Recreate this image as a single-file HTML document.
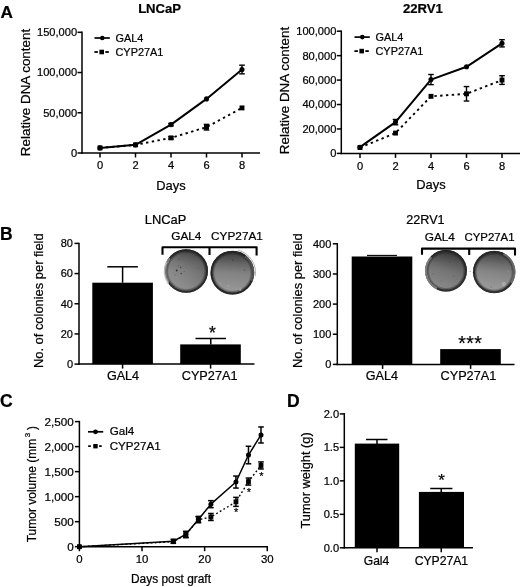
<!DOCTYPE html>
<html><head><meta charset="utf-8"><title>Figure</title>
<style>
html,body{margin:0;padding:0;background:#fff;}
svg{display:block;font-family:"Liberation Sans", Arial, sans-serif;fill:#000;}
text{stroke:#000;stroke-width:0.22px;}
</style></head>
<body>
<svg width="520" height="587" viewBox="0 0 520 587">
<rect width="520" height="587" fill="#fff"/>
<line x1="82" y1="31.549999999999997" x2="82" y2="153.75" stroke="#000" stroke-width="1.5" stroke-linecap="butt"/>
<line x1="81.25" y1="153" x2="260" y2="153" stroke="#000" stroke-width="1.5" stroke-linecap="butt"/>
<line x1="77.5" y1="153.0" x2="82" y2="153.0" stroke="#000" stroke-width="1.5" stroke-linecap="butt"/>
<text x="77.1" y="156.95" font-size="11.1" text-anchor="end" font-weight="normal">0</text>
<line x1="77.5" y1="112.76666666666667" x2="82" y2="112.76666666666667" stroke="#000" stroke-width="1.5" stroke-linecap="butt"/>
<text x="77.1" y="116.71666666666667" font-size="11.1" text-anchor="end" font-weight="normal">50,000</text>
<line x1="77.5" y1="72.53333333333333" x2="82" y2="72.53333333333333" stroke="#000" stroke-width="1.5" stroke-linecap="butt"/>
<text x="77.1" y="76.48333333333333" font-size="11.1" text-anchor="end" font-weight="normal">100,000</text>
<line x1="77.5" y1="32.30000000000001" x2="82" y2="32.30000000000001" stroke="#000" stroke-width="1.5" stroke-linecap="butt"/>
<text x="77.1" y="36.250000000000014" font-size="11.1" text-anchor="end" font-weight="normal">150,000</text>
<line x1="100.0" y1="153" x2="100.0" y2="157.5" stroke="#000" stroke-width="1.5" stroke-linecap="butt"/>
<text x="100.0" y="169.4" font-size="11.1" text-anchor="middle" font-weight="normal">0</text>
<line x1="135.5" y1="153" x2="135.5" y2="157.5" stroke="#000" stroke-width="1.5" stroke-linecap="butt"/>
<text x="135.5" y="169.4" font-size="11.1" text-anchor="middle" font-weight="normal">2</text>
<line x1="171.0" y1="153" x2="171.0" y2="157.5" stroke="#000" stroke-width="1.5" stroke-linecap="butt"/>
<text x="171.0" y="169.4" font-size="11.1" text-anchor="middle" font-weight="normal">4</text>
<line x1="206.5" y1="153" x2="206.5" y2="157.5" stroke="#000" stroke-width="1.5" stroke-linecap="butt"/>
<text x="206.5" y="169.4" font-size="11.1" text-anchor="middle" font-weight="normal">6</text>
<line x1="242.0" y1="153" x2="242.0" y2="157.5" stroke="#000" stroke-width="1.5" stroke-linecap="butt"/>
<text x="242.0" y="169.4" font-size="11.1" text-anchor="middle" font-weight="normal">8</text>
<text x="171" y="189.5" font-size="12.9" text-anchor="middle" font-weight="normal">Days</text>
<text x="30" y="92.5" font-size="13.4" text-anchor="middle" font-weight="normal" transform="rotate(-90 30 92.5)">Relative DNA content</text>
<text x="159.6" y="12.5" font-size="13.1" text-anchor="middle" font-weight="bold">LNCaP</text>
<line x1="94.5" y1="38" x2="109.8" y2="38" stroke="#000" stroke-width="1.7" stroke-linecap="butt"/>
<circle cx="102.30" cy="38.00" r="2.3" fill="#000"/>
<text x="115.5" y="41.5" font-size="10.9" text-anchor="start" font-weight="normal">GAL4</text>
<line x1="94.4" y1="52" x2="97.9" y2="52" stroke="#000" stroke-width="1.8" stroke-linecap="butt"/>
<line x1="105.3" y1="52" x2="108.8" y2="52" stroke="#000" stroke-width="1.8" stroke-linecap="butt"/>
<rect x="99.40" y="49.70" width="4.6" height="4.6" fill="#000"/>
<text x="115.5" y="55.9" font-size="10.9" text-anchor="start" font-weight="normal">CYP27A1</text>
<polyline points="100.00,147.92 135.50,144.87 171.00,137.88 206.50,127.19 242.00,107.91" fill="none" stroke="#000" stroke-width="1.9" stroke-dasharray="2.4 3.4" stroke-linejoin="round"/>
<polyline points="100.00,147.92 135.50,144.87 171.00,124.62 206.50,98.92 242.00,69.51" fill="none" stroke="#000" stroke-width="2" stroke-linejoin="round"/>
<line x1="242.0" y1="65.17599999999999" x2="242.0" y2="73.85199999999999" stroke="#000" stroke-width="1.4" stroke-linecap="butt"/>
<line x1="239.2" y1="65.17599999999999" x2="244.8" y2="65.17599999999999" stroke="#000" stroke-width="1.4" stroke-linecap="butt"/>
<line x1="239.2" y1="73.85199999999999" x2="244.8" y2="73.85199999999999" stroke="#000" stroke-width="1.4" stroke-linecap="butt"/>
<line x1="171.0" y1="123.41766666666666" x2="171.0" y2="125.82766666666666" stroke="#000" stroke-width="1.4" stroke-linecap="butt"/>
<line x1="168.2" y1="123.41766666666666" x2="173.8" y2="123.41766666666666" stroke="#000" stroke-width="1.4" stroke-linecap="butt"/>
<line x1="168.2" y1="125.82766666666666" x2="173.8" y2="125.82766666666666" stroke="#000" stroke-width="1.4" stroke-linecap="butt"/>
<line x1="206.5" y1="124.38166666666666" x2="206.5" y2="130.005" stroke="#000" stroke-width="1.4" stroke-linecap="butt"/>
<line x1="203.7" y1="124.38166666666666" x2="209.3" y2="124.38166666666666" stroke="#000" stroke-width="1.4" stroke-linecap="butt"/>
<line x1="203.7" y1="130.005" x2="209.3" y2="130.005" stroke="#000" stroke-width="1.4" stroke-linecap="butt"/>
<line x1="171.0" y1="136.67266666666666" x2="171.0" y2="139.08266666666668" stroke="#000" stroke-width="1.4" stroke-linecap="butt"/>
<line x1="168.2" y1="136.67266666666666" x2="173.8" y2="136.67266666666666" stroke="#000" stroke-width="1.4" stroke-linecap="butt"/>
<line x1="168.2" y1="139.08266666666668" x2="173.8" y2="139.08266666666668" stroke="#000" stroke-width="1.4" stroke-linecap="butt"/>
<circle cx="100.00" cy="147.92" r="2.55" fill="#000"/>
<circle cx="135.50" cy="144.87" r="2.55" fill="#000"/>
<circle cx="171.00" cy="124.62" r="2.55" fill="#000"/>
<circle cx="206.50" cy="98.92" r="2.55" fill="#000"/>
<circle cx="242.00" cy="69.51" r="2.55" fill="#000"/>
<rect x="97.55" y="145.47" width="4.9" height="4.9" fill="#000"/>
<rect x="133.05" y="142.42" width="4.9" height="4.9" fill="#000"/>
<rect x="168.55" y="135.43" width="4.9" height="4.9" fill="#000"/>
<rect x="204.05" y="124.74" width="4.9" height="4.9" fill="#000"/>
<rect x="239.55" y="105.46" width="4.9" height="4.9" fill="#000"/>
<line x1="341.3" y1="30.45" x2="341.3" y2="154.15" stroke="#000" stroke-width="1.5" stroke-linecap="butt"/>
<line x1="340.55" y1="153.4" x2="520" y2="153.4" stroke="#000" stroke-width="1.5" stroke-linecap="butt"/>
<line x1="336.8" y1="153.4" x2="341.3" y2="153.4" stroke="#000" stroke-width="1.5" stroke-linecap="butt"/>
<text x="336.40000000000003" y="157.35" font-size="11.1" text-anchor="end" font-weight="normal">0</text>
<line x1="336.8" y1="128.96" x2="341.3" y2="128.96" stroke="#000" stroke-width="1.5" stroke-linecap="butt"/>
<text x="336.40000000000003" y="132.91" font-size="11.1" text-anchor="end" font-weight="normal">20,000</text>
<line x1="336.8" y1="104.52000000000001" x2="341.3" y2="104.52000000000001" stroke="#000" stroke-width="1.5" stroke-linecap="butt"/>
<text x="336.40000000000003" y="108.47000000000001" font-size="11.1" text-anchor="end" font-weight="normal">40,000</text>
<line x1="336.8" y1="80.08000000000001" x2="341.3" y2="80.08000000000001" stroke="#000" stroke-width="1.5" stroke-linecap="butt"/>
<text x="336.40000000000003" y="84.03000000000002" font-size="11.1" text-anchor="end" font-weight="normal">60,000</text>
<line x1="336.8" y1="55.64" x2="341.3" y2="55.64" stroke="#000" stroke-width="1.5" stroke-linecap="butt"/>
<text x="336.40000000000003" y="59.59" font-size="11.1" text-anchor="end" font-weight="normal">80,000</text>
<line x1="336.8" y1="31.200000000000003" x2="341.3" y2="31.200000000000003" stroke="#000" stroke-width="1.5" stroke-linecap="butt"/>
<text x="336.40000000000003" y="35.150000000000006" font-size="11.1" text-anchor="end" font-weight="normal">100,000</text>
<line x1="360.0" y1="153.4" x2="360.0" y2="157.9" stroke="#000" stroke-width="1.5" stroke-linecap="butt"/>
<text x="360.0" y="169.8" font-size="11.1" text-anchor="middle" font-weight="normal">0</text>
<line x1="395.5" y1="153.4" x2="395.5" y2="157.9" stroke="#000" stroke-width="1.5" stroke-linecap="butt"/>
<text x="395.5" y="169.8" font-size="11.1" text-anchor="middle" font-weight="normal">2</text>
<line x1="431.0" y1="153.4" x2="431.0" y2="157.9" stroke="#000" stroke-width="1.5" stroke-linecap="butt"/>
<text x="431.0" y="169.8" font-size="11.1" text-anchor="middle" font-weight="normal">4</text>
<line x1="466.5" y1="153.4" x2="466.5" y2="157.9" stroke="#000" stroke-width="1.5" stroke-linecap="butt"/>
<text x="466.5" y="169.8" font-size="11.1" text-anchor="middle" font-weight="normal">6</text>
<line x1="502.0" y1="153.4" x2="502.0" y2="157.9" stroke="#000" stroke-width="1.5" stroke-linecap="butt"/>
<text x="502.0" y="169.8" font-size="11.1" text-anchor="middle" font-weight="normal">8</text>
<text x="431" y="188.9" font-size="12.9" text-anchor="middle" font-weight="normal">Days</text>
<text x="289.4" y="90.5" font-size="13.4" text-anchor="middle" font-weight="normal" transform="rotate(-90 289.4 90.5)">Relative DNA content</text>
<text x="422.8" y="12.5" font-size="13.1" text-anchor="middle" font-weight="bold">22RV1</text>
<line x1="354.5" y1="37.1" x2="369.8" y2="37.1" stroke="#000" stroke-width="1.7" stroke-linecap="butt"/>
<circle cx="362.30" cy="37.10" r="2.3" fill="#000"/>
<text x="375.5" y="40.6" font-size="10.9" text-anchor="start" font-weight="normal">GAL4</text>
<line x1="354.4" y1="51.1" x2="357.9" y2="51.1" stroke="#000" stroke-width="1.8" stroke-linecap="butt"/>
<line x1="365.3" y1="51.1" x2="368.8" y2="51.1" stroke="#000" stroke-width="1.8" stroke-linecap="butt"/>
<rect x="359.40" y="48.80" width="4.6" height="4.6" fill="#000"/>
<text x="375.5" y="55.0" font-size="10.9" text-anchor="start" font-weight="normal">CYP27A1</text>
<polyline points="360.00,147.54 395.50,133.08 431.00,96.33 466.50,93.80 502.00,80.06" fill="none" stroke="#000" stroke-width="1.9" stroke-dasharray="2.4 3.4" stroke-linejoin="round"/>
<polyline points="360.00,147.18 395.50,122.11 431.00,79.58 466.50,66.80 502.00,43.31" fill="none" stroke="#000" stroke-width="2" stroke-linejoin="round"/>
<line x1="395.5" y1="119.46249999999999" x2="395.5" y2="124.7645" stroke="#000" stroke-width="1.4" stroke-linecap="butt"/>
<line x1="392.7" y1="119.46249999999999" x2="398.3" y2="119.46249999999999" stroke="#000" stroke-width="1.4" stroke-linecap="butt"/>
<line x1="392.7" y1="124.7645" x2="398.3" y2="124.7645" stroke="#000" stroke-width="1.4" stroke-linecap="butt"/>
<line x1="431.0" y1="74.51599999999999" x2="431.0" y2="84.63799999999999" stroke="#000" stroke-width="1.4" stroke-linecap="butt"/>
<line x1="428.2" y1="74.51599999999999" x2="433.8" y2="74.51599999999999" stroke="#000" stroke-width="1.4" stroke-linecap="butt"/>
<line x1="428.2" y1="84.63799999999999" x2="433.8" y2="84.63799999999999" stroke="#000" stroke-width="1.4" stroke-linecap="butt"/>
<line x1="502.0" y1="39.69149999999999" x2="502.0" y2="46.921499999999995" stroke="#000" stroke-width="1.4" stroke-linecap="butt"/>
<line x1="499.2" y1="39.69149999999999" x2="504.8" y2="39.69149999999999" stroke="#000" stroke-width="1.4" stroke-linecap="butt"/>
<line x1="499.2" y1="46.921499999999995" x2="504.8" y2="46.921499999999995" stroke="#000" stroke-width="1.4" stroke-linecap="butt"/>
<line x1="466.5" y1="86.56599999999999" x2="466.5" y2="101.026" stroke="#000" stroke-width="1.4" stroke-linecap="butt"/>
<line x1="463.7" y1="86.56599999999999" x2="469.3" y2="86.56599999999999" stroke="#000" stroke-width="1.4" stroke-linecap="butt"/>
<line x1="463.7" y1="101.026" x2="469.3" y2="101.026" stroke="#000" stroke-width="1.4" stroke-linecap="butt"/>
<line x1="502.0" y1="75.72099999999999" x2="502.0" y2="84.39699999999999" stroke="#000" stroke-width="1.4" stroke-linecap="butt"/>
<line x1="499.2" y1="75.72099999999999" x2="504.8" y2="75.72099999999999" stroke="#000" stroke-width="1.4" stroke-linecap="butt"/>
<line x1="499.2" y1="84.39699999999999" x2="504.8" y2="84.39699999999999" stroke="#000" stroke-width="1.4" stroke-linecap="butt"/>
<circle cx="360.00" cy="147.18" r="2.55" fill="#000"/>
<circle cx="395.50" cy="122.11" r="2.55" fill="#000"/>
<circle cx="431.00" cy="79.58" r="2.55" fill="#000"/>
<circle cx="466.50" cy="66.80" r="2.55" fill="#000"/>
<circle cx="502.00" cy="43.31" r="2.55" fill="#000"/>
<rect x="357.55" y="145.09" width="4.9" height="4.9" fill="#000"/>
<rect x="393.05" y="130.63" width="4.9" height="4.9" fill="#000"/>
<rect x="428.55" y="93.88" width="4.9" height="4.9" fill="#000"/>
<rect x="464.05" y="91.35" width="4.9" height="4.9" fill="#000"/>
<rect x="499.55" y="77.61" width="4.9" height="4.9" fill="#000"/>
<text x="0.5" y="17.6" font-size="17.2" text-anchor="start" font-weight="bold">A</text>
<defs>
<filter id="soft" x="-10%" y="-10%" width="120%" height="120%"><feGaussianBlur stdDeviation="0.55"/></filter>
<linearGradient id="dg1" x1="0.15" y1="0.9" x2="0.85" y2="0.1">
<stop offset="0" stop-color="#969696"/><stop offset="0.5" stop-color="#7e7e7e"/><stop offset="1" stop-color="#5c5c5c"/>
</linearGradient>
<linearGradient id="dg2" x1="0.45" y1="1" x2="0.55" y2="0">
<stop offset="0" stop-color="#9c9c9c"/><stop offset="0.5" stop-color="#828282"/><stop offset="1" stop-color="#525252"/>
</linearGradient>
<linearGradient id="dg3" x1="0.3" y1="1" x2="0.7" y2="0">
<stop offset="0" stop-color="#8e8e8e"/><stop offset="0.5" stop-color="#747474"/><stop offset="1" stop-color="#464646"/>
</linearGradient>
<linearGradient id="dg4" x1="0.4" y1="1" x2="0.6" y2="0">
<stop offset="0" stop-color="#a0a0a0"/><stop offset="0.5" stop-color="#848484"/><stop offset="1" stop-color="#565656"/>
</linearGradient>
<radialGradient id="vig" cx="0.5" cy="0.5" r="0.5">
<stop offset="0" stop-color="#000" stop-opacity="0"/><stop offset="0.8" stop-color="#000" stop-opacity="0"/><stop offset="0.93" stop-color="#000" stop-opacity="0.25"/><stop offset="1" stop-color="#000" stop-opacity="0.45"/>
</radialGradient>
<linearGradient id="topdark" x1="0" y1="0" x2="0" y2="1"><stop offset="0" stop-color="#000" stop-opacity="0.32"/><stop offset="0.3" stop-color="#000" stop-opacity="0.06"/><stop offset="0.5" stop-color="#000" stop-opacity="0"/></linearGradient>
</defs>
<line x1="79" y1="242.65" x2="79" y2="364.85" stroke="#000" stroke-width="1.5" stroke-linecap="butt"/>
<line x1="78.25" y1="364.1" x2="254.5" y2="364.1" stroke="#000" stroke-width="1.5" stroke-linecap="butt"/>
<line x1="74.5" y1="364.1" x2="79" y2="364.1" stroke="#000" stroke-width="1.5" stroke-linecap="butt"/>
<text x="73" y="368.0" font-size="11" text-anchor="end" font-weight="normal">0</text>
<line x1="74.5" y1="333.925" x2="79" y2="333.925" stroke="#000" stroke-width="1.5" stroke-linecap="butt"/>
<text x="73" y="337.825" font-size="11" text-anchor="end" font-weight="normal">20</text>
<line x1="74.5" y1="303.75" x2="79" y2="303.75" stroke="#000" stroke-width="1.5" stroke-linecap="butt"/>
<text x="73" y="307.65" font-size="11" text-anchor="end" font-weight="normal">40</text>
<line x1="74.5" y1="273.575" x2="79" y2="273.575" stroke="#000" stroke-width="1.5" stroke-linecap="butt"/>
<text x="73" y="277.47499999999997" font-size="11" text-anchor="end" font-weight="normal">60</text>
<line x1="74.5" y1="243.4" x2="79" y2="243.4" stroke="#000" stroke-width="1.5" stroke-linecap="butt"/>
<text x="73" y="247.3" font-size="11" text-anchor="end" font-weight="normal">80</text>
<line x1="122.6" y1="364.1" x2="122.6" y2="368.6" stroke="#000" stroke-width="1.5" stroke-linecap="butt"/>
<line x1="210.6" y1="364.1" x2="210.6" y2="368.6" stroke="#000" stroke-width="1.5" stroke-linecap="butt"/>
<text x="123" y="380" font-size="12.6" text-anchor="middle" font-weight="normal">GAL4</text>
<text x="209.6" y="380" font-size="12.7" text-anchor="middle" font-weight="normal">CYP27A1</text>
<text x="42.9" y="300.7" font-size="12.9" text-anchor="middle" font-weight="normal" transform="rotate(-90 42.9 300.7)">No. of colonies per field</text>
<text x="165.6" y="224.2" font-size="12.9" text-anchor="middle" font-weight="normal">LNCaP</text>
<rect x="92.30" y="282.70" width="60.60" height="81.40" fill="#000"/>
<rect x="180.20" y="344.40" width="60.60" height="19.70" fill="#000"/>
<line x1="122.6" y1="266.8" x2="122.6" y2="282.7" stroke="#000" stroke-width="1.5" stroke-linecap="butt"/>
<line x1="107.3" y1="266.8" x2="137.9" y2="266.8" stroke="#000" stroke-width="1.5" stroke-linecap="butt"/>
<line x1="210.75" y1="338.5" x2="210.75" y2="344.4" stroke="#000" stroke-width="1.5" stroke-linecap="butt"/>
<line x1="195.5" y1="338.5" x2="226" y2="338.5" stroke="#000" stroke-width="1.5" stroke-linecap="butt"/>
<text x="212.4" y="338.9" font-size="17.5" text-anchor="middle" font-weight="normal">*</text>
<path d="M162.5 254.8 V247.2 H256.6 V255.5 M209.5 247.2 V255" fill="none" stroke="#000" stroke-width="2.1" stroke-linejoin="round"/>
<text x="186.3" y="240.3" font-size="11.8" text-anchor="middle" font-weight="normal">GAL4</text>
<text x="211.1" y="240.3" font-size="11.8" text-anchor="start" font-weight="normal">CYP27A1</text>
<g filter="url(#soft)">
<circle cx="186.2" cy="271" r="21.7" fill="url(#dg1)"/>
<circle cx="186.2" cy="271" r="21.7" fill="url(#vig)"/>
<circle cx="186.2" cy="271" r="21.7" fill="url(#topdark)"/>
<circle cx="186.2" cy="271" r="19.3" fill="none" stroke="#2a2a2a" stroke-width="2.2" opacity="0.28"/>
<circle cx="186.2" cy="271" r="20.8" fill="none" stroke="#242424" stroke-width="2" opacity="0.85"/>
<path d="M168.10 281.45 A20.9 20.9 0 0 1 169.08 259.01" fill="none" stroke="#b8b8b8" stroke-width="2.2" opacity="0.55" stroke-linecap="round"/>
<path d="M166.5 262 A21.5 21.5 0 0 0 168.5 284" fill="none" stroke="#c8c8c8" stroke-width="1.6" opacity="0.8"/>
<circle cx="176.7" cy="270.5" r="0.9" fill="#1c1c1c" opacity="0.8"/>
<circle cx="180.7" cy="267.5" r="0.7" fill="#1c1c1c" opacity="0.7"/>
<circle cx="181.2" cy="273.5" r="0.7" fill="#1c1c1c" opacity="0.7"/>
<circle cx="178.2" cy="266" r="0.6" fill="#1c1c1c" opacity="0.5"/>
<circle cx="179.2" cy="259" r="0.6" fill="#1c1c1c" opacity="0.4"/>
<circle cx="184.2" cy="271.5" r="0.5" fill="#1c1c1c" opacity="0.4"/>
<circle cx="175.2" cy="275" r="0.5" fill="#1c1c1c" opacity="0.4"/>
<circle cx="198.2" cy="268" r="0.5" fill="#1c1c1c" opacity="0.3"/>
<circle cx="169.2" cy="284" r="0.7" fill="#1c1c1c" opacity="0.4"/>
</g>
<g filter="url(#soft)">
<circle cx="232.4" cy="272.7" r="21.8" fill="url(#dg2)"/>
<circle cx="232.4" cy="272.7" r="21.8" fill="url(#vig)"/>
<circle cx="232.4" cy="272.7" r="21.8" fill="url(#topdark)"/>
<circle cx="232.4" cy="272.7" r="19.400000000000002" fill="none" stroke="#2a2a2a" stroke-width="2.2" opacity="0.28"/>
<circle cx="232.4" cy="272.7" r="20.900000000000002" fill="none" stroke="#242424" stroke-width="2" opacity="0.95"/>
<path d="M245.90 256.61 A21.0 21.0 0 0 1 252.13 279.88" fill="none" stroke="#b8b8b8" stroke-width="2.2" opacity="0.3" stroke-linecap="round"/>
<path d="M238 250.2 A22.9 22.9 0 0 1 255.2 276" fill="none" stroke="#9a9a9a" stroke-width="0.8"/>
<circle cx="232.9" cy="260.2" r="0.8" fill="#1c1c1c" opacity="0.45"/>
<circle cx="244.4" cy="269.7" r="0.7" fill="#1c1c1c" opacity="0.3"/>
<circle cx="220.4" cy="283.7" r="0.8" fill="#d8d8d8" opacity="0.25"/>
<circle cx="228.4" cy="285.7" r="0.9" fill="#d8d8d8" opacity="0.25"/>
<circle cx="240.4" cy="289.7" r="1.2" fill="#d8d8d8" opacity="0.45"/>
<circle cx="211.4" cy="274.7" r="0.8" fill="#1c1c1c" opacity="0.7"/>
</g>
<line x1="337.3" y1="243.05" x2="337.3" y2="365.15" stroke="#000" stroke-width="1.5" stroke-linecap="butt"/>
<line x1="336.55" y1="364.4" x2="514.5" y2="364.4" stroke="#000" stroke-width="1.5" stroke-linecap="butt"/>
<line x1="332.8" y1="364.4" x2="337.3" y2="364.4" stroke="#000" stroke-width="1.5" stroke-linecap="butt"/>
<text x="331.3" y="368.29999999999995" font-size="11" text-anchor="end" font-weight="normal">0</text>
<line x1="332.8" y1="334.25" x2="337.3" y2="334.25" stroke="#000" stroke-width="1.5" stroke-linecap="butt"/>
<text x="331.3" y="338.15" font-size="11" text-anchor="end" font-weight="normal">100</text>
<line x1="332.8" y1="304.09999999999997" x2="337.3" y2="304.09999999999997" stroke="#000" stroke-width="1.5" stroke-linecap="butt"/>
<text x="331.3" y="307.99999999999994" font-size="11" text-anchor="end" font-weight="normal">200</text>
<line x1="332.8" y1="273.95" x2="337.3" y2="273.95" stroke="#000" stroke-width="1.5" stroke-linecap="butt"/>
<text x="331.3" y="277.84999999999997" font-size="11" text-anchor="end" font-weight="normal">300</text>
<line x1="332.8" y1="243.8" x2="337.3" y2="243.8" stroke="#000" stroke-width="1.5" stroke-linecap="butt"/>
<text x="331.3" y="247.70000000000002" font-size="11" text-anchor="end" font-weight="normal">400</text>
<line x1="382.6" y1="364.4" x2="382.6" y2="368.9" stroke="#000" stroke-width="1.5" stroke-linecap="butt"/>
<line x1="470.6" y1="364.4" x2="470.6" y2="368.9" stroke="#000" stroke-width="1.5" stroke-linecap="butt"/>
<text x="381.8" y="380.3" font-size="12.6" text-anchor="middle" font-weight="normal">GAL4</text>
<text x="468.4" y="380.3" font-size="12.7" text-anchor="middle" font-weight="normal">CYP27A1</text>
<text x="302.2" y="300.7" font-size="12.9" text-anchor="middle" font-weight="normal" transform="rotate(-90 302.2 300.7)">No. of colonies per field</text>
<text x="425.4" y="224.2" font-size="12.6" text-anchor="middle" font-weight="normal">22RV1</text>
<rect x="351.70" y="256.50" width="60.60" height="107.90" fill="#000"/>
<rect x="440.20" y="349.10" width="60.60" height="15.30" fill="#000"/>
<line x1="367.0" y1="255.4" x2="397.0" y2="255.4" stroke="#000" stroke-width="1.1" stroke-linecap="butt"/>
<text x="470.2" y="350.0" font-size="19.5" text-anchor="middle" font-weight="normal" letter-spacing="0.45">***</text>
<path d="M422 254.8 V248.6 H515 V255.5 M469.2 248.6 V255" fill="none" stroke="#000" stroke-width="2.1" stroke-linejoin="round"/>
<text x="439.8" y="241.3" font-size="11.8" text-anchor="middle" font-weight="normal">GAL4</text>
<text x="464.5" y="241.3" font-size="11.4" text-anchor="start" font-weight="normal">CYP27A1</text>
<g filter="url(#soft)">
<circle cx="446" cy="270.7" r="20.8" fill="url(#dg3)"/>
<circle cx="446" cy="270.7" r="20.8" fill="url(#vig)"/>
<circle cx="446" cy="270.7" r="20.8" fill="url(#topdark)"/>
<circle cx="446" cy="270.7" r="18.400000000000002" fill="none" stroke="#2a2a2a" stroke-width="2.2" opacity="0.28"/>
<circle cx="446" cy="270.7" r="19.900000000000002" fill="none" stroke="#242424" stroke-width="2" opacity="0.8"/>
<path d="M436.00 288.02 A20.0 20.0 0 0 1 430.68 257.84" fill="none" stroke="#b8b8b8" stroke-width="2.2" opacity="0.55" stroke-linecap="round"/>

<circle cx="433" cy="273.7" r="0.5" fill="#1c1c1c" opacity="0.4"/>
<circle cx="450" cy="261.7" r="0.5" fill="#1c1c1c" opacity="0.3"/>
<circle cx="454" cy="275.7" r="0.5" fill="#1c1c1c" opacity="0.3"/>
<circle cx="441" cy="280.7" r="0.5" fill="#1c1c1c" opacity="0.25"/>
</g>
<g filter="url(#soft)">
<circle cx="494.2" cy="272" r="21.1" fill="url(#dg4)"/>
<circle cx="494.2" cy="272" r="21.1" fill="url(#vig)"/>
<circle cx="494.2" cy="272" r="21.1" fill="url(#topdark)"/>
<circle cx="494.2" cy="272" r="18.700000000000003" fill="none" stroke="#2a2a2a" stroke-width="2.2" opacity="0.28"/>
<circle cx="494.2" cy="272" r="20.200000000000003" fill="none" stroke="#242424" stroke-width="2" opacity="0.85"/>
<path d="M504.35 254.42 A20.3 20.3 0 0 1 511.78 282.15" fill="none" stroke="#b8b8b8" stroke-width="2.2" opacity="0.45" stroke-linecap="round"/>

<circle cx="473.7" cy="272.5" r="0.9" fill="#1c1c1c" opacity="0.8"/>
<circle cx="470.2" cy="271.5" r="0.6" fill="#1c1c1c" opacity="0.5"/>
<circle cx="503.7" cy="284" r="2.2" fill="#d8d8d8" opacity="0.35"/>
<circle cx="491.2" cy="287" r="0.6" fill="#1c1c1c" opacity="0.4"/>
<circle cx="508.2" cy="271" r="0.8" fill="#d8d8d8" opacity="0.2"/>
</g>
<text x="0" y="240.3" font-size="17.5" text-anchor="start" font-weight="bold">B</text>
<line x1="79.4" y1="420.85" x2="79.4" y2="547.45" stroke="#000" stroke-width="1.5" stroke-linecap="butt"/>
<line x1="78.65" y1="546.7" x2="268" y2="546.7" stroke="#000" stroke-width="1.5" stroke-linecap="butt"/>
<line x1="74.9" y1="546.7" x2="79.4" y2="546.7" stroke="#000" stroke-width="1.5" stroke-linecap="butt"/>
<text x="73.7" y="550.8000000000001" font-size="11.7" text-anchor="end" font-weight="normal">0</text>
<line x1="74.9" y1="521.6800000000001" x2="79.4" y2="521.6800000000001" stroke="#000" stroke-width="1.5" stroke-linecap="butt"/>
<text x="73.7" y="525.7800000000001" font-size="11.7" text-anchor="end" font-weight="normal">500</text>
<line x1="74.9" y1="496.66" x2="79.4" y2="496.66" stroke="#000" stroke-width="1.5" stroke-linecap="butt"/>
<text x="73.7" y="500.76000000000005" font-size="11.7" text-anchor="end" font-weight="normal">1,000</text>
<line x1="74.9" y1="471.64000000000004" x2="79.4" y2="471.64000000000004" stroke="#000" stroke-width="1.5" stroke-linecap="butt"/>
<text x="73.7" y="475.74000000000007" font-size="11.7" text-anchor="end" font-weight="normal">1,500</text>
<line x1="74.9" y1="446.62" x2="79.4" y2="446.62" stroke="#000" stroke-width="1.5" stroke-linecap="butt"/>
<text x="73.7" y="450.72" font-size="11.7" text-anchor="end" font-weight="normal">2,000</text>
<line x1="74.9" y1="421.6" x2="79.4" y2="421.6" stroke="#000" stroke-width="1.5" stroke-linecap="butt"/>
<text x="73.7" y="425.70000000000005" font-size="11.7" text-anchor="end" font-weight="normal">2,500</text>
<line x1="79.4" y1="546.7" x2="79.4" y2="551.2" stroke="#000" stroke-width="1.5" stroke-linecap="butt"/>
<text x="79.4" y="563.1" font-size="11.4" text-anchor="middle" font-weight="normal">0</text>
<line x1="142.02" y1="546.7" x2="142.02" y2="551.2" stroke="#000" stroke-width="1.5" stroke-linecap="butt"/>
<text x="142.02" y="563.1" font-size="11.4" text-anchor="middle" font-weight="normal">10</text>
<line x1="204.64" y1="546.7" x2="204.64" y2="551.2" stroke="#000" stroke-width="1.5" stroke-linecap="butt"/>
<text x="204.64" y="563.1" font-size="11.4" text-anchor="middle" font-weight="normal">20</text>
<line x1="267.26" y1="546.7" x2="267.26" y2="551.2" stroke="#000" stroke-width="1.5" stroke-linecap="butt"/>
<text x="267.26" y="563.1" font-size="11.4" text-anchor="middle" font-weight="normal">30</text>
<text x="171" y="582.7" font-size="11.9" text-anchor="middle" font-weight="normal">Days post graft</text>
<text x="36" y="542.3" font-size="12" transform="rotate(-90 36 542.3)">Tumor volume (mm<tspan dx="1.5" dy="-6.2" font-size="8">3</tspan><tspan dx="2.7" dy="6.2">)</tspan></text>
<line x1="88" y1="431.8" x2="103.2" y2="431.8" stroke="#000" stroke-width="1.7" stroke-linecap="butt"/>
<circle cx="95.50" cy="431.80" r="2.4" fill="#000"/>
<text x="109.7" y="435.2" font-size="11.6" text-anchor="start" font-weight="normal">Gal4</text>
<line x1="88.2" y1="446.2" x2="103" y2="446.2" stroke="#000" stroke-width="1.7" stroke-dasharray="2.6 2.85" stroke-linecap="butt"/>
<rect x="93.30" y="444.00" width="4.4" height="4.4" fill="#000"/>
<text x="109.7" y="449.6" font-size="11.6" text-anchor="start" font-weight="normal">CYP27A1</text>
<polyline points="79.40,546.70 173.33,541.70 185.85,534.69 198.38,519.68 210.90,516.98 235.95,501.86 248.47,481.55 261.00,465.44" fill="none" stroke="#000" stroke-width="1.4" stroke-dasharray="1.8 2.4" stroke-linejoin="round"/>
<polyline points="79.40,546.70 173.33,541.25 185.85,534.34 198.38,519.43 210.90,504.17 235.95,482.05 248.47,455.03 261.00,434.96" fill="none" stroke="#000" stroke-width="1.5" stroke-linejoin="round"/>
<line x1="173.32999999999998" y1="539.24404" x2="173.32999999999998" y2="543.24724" stroke="#000" stroke-width="1.5" stroke-linecap="butt"/>
<line x1="170.52999999999997" y1="539.24404" x2="176.13" y2="539.24404" stroke="#000" stroke-width="1.5" stroke-linecap="butt"/>
<line x1="170.52999999999997" y1="543.24724" x2="176.13" y2="543.24724" stroke="#000" stroke-width="1.5" stroke-linecap="butt"/>
<line x1="185.85399999999998" y1="531.33772" x2="185.85399999999998" y2="537.34252" stroke="#000" stroke-width="1.5" stroke-linecap="butt"/>
<line x1="183.05399999999997" y1="531.33772" x2="188.654" y2="531.33772" stroke="#000" stroke-width="1.5" stroke-linecap="butt"/>
<line x1="183.05399999999997" y1="537.34252" x2="188.654" y2="537.34252" stroke="#000" stroke-width="1.5" stroke-linecap="butt"/>
<line x1="198.378" y1="516.4258000000001" x2="198.378" y2="522.4306" stroke="#000" stroke-width="1.5" stroke-linecap="butt"/>
<line x1="195.57799999999997" y1="516.4258000000001" x2="201.178" y2="516.4258000000001" stroke="#000" stroke-width="1.5" stroke-linecap="butt"/>
<line x1="195.57799999999997" y1="522.4306" x2="201.178" y2="522.4306" stroke="#000" stroke-width="1.5" stroke-linecap="butt"/>
<line x1="210.902" y1="500.6632" x2="210.902" y2="507.66880000000003" stroke="#000" stroke-width="1.5" stroke-linecap="butt"/>
<line x1="208.10199999999998" y1="500.6632" x2="213.702" y2="500.6632" stroke="#000" stroke-width="1.5" stroke-linecap="butt"/>
<line x1="208.10199999999998" y1="507.66880000000003" x2="213.702" y2="507.66880000000003" stroke="#000" stroke-width="1.5" stroke-linecap="butt"/>
<line x1="235.95" y1="476.04352000000006" x2="235.95" y2="488.05312000000004" stroke="#000" stroke-width="1.5" stroke-linecap="butt"/>
<line x1="233.14999999999998" y1="476.04352000000006" x2="238.75" y2="476.04352000000006" stroke="#000" stroke-width="1.5" stroke-linecap="butt"/>
<line x1="233.14999999999998" y1="488.05312000000004" x2="238.75" y2="488.05312000000004" stroke="#000" stroke-width="1.5" stroke-linecap="butt"/>
<line x1="248.474" y1="446.26972" x2="248.474" y2="463.78372" stroke="#000" stroke-width="1.5" stroke-linecap="butt"/>
<line x1="245.67399999999998" y1="446.26972" x2="251.274" y2="446.26972" stroke="#000" stroke-width="1.5" stroke-linecap="butt"/>
<line x1="245.67399999999998" y1="463.78372" x2="251.274" y2="463.78372" stroke="#000" stroke-width="1.5" stroke-linecap="butt"/>
<line x1="260.998" y1="426.95428000000004" x2="260.998" y2="442.96708" stroke="#000" stroke-width="1.5" stroke-linecap="butt"/>
<line x1="258.198" y1="426.95428000000004" x2="263.798" y2="426.95428000000004" stroke="#000" stroke-width="1.5" stroke-linecap="butt"/>
<line x1="258.198" y1="442.96708" x2="263.798" y2="442.96708" stroke="#000" stroke-width="1.5" stroke-linecap="butt"/>
<line x1="185.85399999999998" y1="531.688" x2="185.85399999999998" y2="537.6928" stroke="#000" stroke-width="1.5" stroke-linecap="butt"/>
<line x1="183.05399999999997" y1="531.688" x2="188.654" y2="531.688" stroke="#000" stroke-width="1.5" stroke-linecap="butt"/>
<line x1="183.05399999999997" y1="537.6928" x2="188.654" y2="537.6928" stroke="#000" stroke-width="1.5" stroke-linecap="butt"/>
<line x1="198.378" y1="516.676" x2="198.378" y2="522.6808000000001" stroke="#000" stroke-width="1.5" stroke-linecap="butt"/>
<line x1="195.57799999999997" y1="516.676" x2="201.178" y2="516.676" stroke="#000" stroke-width="1.5" stroke-linecap="butt"/>
<line x1="195.57799999999997" y1="522.6808000000001" x2="201.178" y2="522.6808000000001" stroke="#000" stroke-width="1.5" stroke-linecap="butt"/>
<line x1="210.902" y1="513.47344" x2="210.902" y2="520.47904" stroke="#000" stroke-width="1.5" stroke-linecap="butt"/>
<line x1="208.10199999999998" y1="513.47344" x2="213.702" y2="513.47344" stroke="#000" stroke-width="1.5" stroke-linecap="butt"/>
<line x1="208.10199999999998" y1="520.47904" x2="213.702" y2="520.47904" stroke="#000" stroke-width="1.5" stroke-linecap="butt"/>
<line x1="235.95" y1="497.36056" x2="235.95" y2="506.36776000000003" stroke="#000" stroke-width="1.5" stroke-linecap="butt"/>
<line x1="233.14999999999998" y1="497.36056" x2="238.75" y2="497.36056" stroke="#000" stroke-width="1.5" stroke-linecap="butt"/>
<line x1="233.14999999999998" y1="506.36776000000003" x2="238.75" y2="506.36776000000003" stroke="#000" stroke-width="1.5" stroke-linecap="butt"/>
<line x1="248.474" y1="478.04512000000005" x2="248.474" y2="485.05072" stroke="#000" stroke-width="1.5" stroke-linecap="butt"/>
<line x1="245.67399999999998" y1="478.04512000000005" x2="251.274" y2="478.04512000000005" stroke="#000" stroke-width="1.5" stroke-linecap="butt"/>
<line x1="245.67399999999998" y1="485.05072" x2="251.274" y2="485.05072" stroke="#000" stroke-width="1.5" stroke-linecap="butt"/>
<line x1="260.998" y1="461.93224000000004" x2="260.998" y2="468.93784000000005" stroke="#000" stroke-width="1.5" stroke-linecap="butt"/>
<line x1="258.198" y1="461.93224000000004" x2="263.798" y2="461.93224000000004" stroke="#000" stroke-width="1.5" stroke-linecap="butt"/>
<line x1="258.198" y1="468.93784000000005" x2="263.798" y2="468.93784000000005" stroke="#000" stroke-width="1.5" stroke-linecap="butt"/>
<circle cx="79.40" cy="546.70" r="2.5" fill="#000"/>
<circle cx="173.33" cy="541.25" r="2.5" fill="#000"/>
<circle cx="185.85" cy="534.34" r="2.5" fill="#000"/>
<circle cx="198.38" cy="519.43" r="2.5" fill="#000"/>
<circle cx="210.90" cy="504.17" r="2.5" fill="#000"/>
<circle cx="235.95" cy="482.05" r="2.5" fill="#000"/>
<circle cx="248.47" cy="455.03" r="2.5" fill="#000"/>
<circle cx="261.00" cy="434.96" r="2.5" fill="#000"/>
<rect x="77.00" y="544.30" width="4.8" height="4.8" fill="#000"/>
<rect x="170.93" y="539.30" width="4.8" height="4.8" fill="#000"/>
<rect x="183.45" y="532.29" width="4.8" height="4.8" fill="#000"/>
<rect x="195.98" y="517.28" width="4.8" height="4.8" fill="#000"/>
<rect x="208.50" y="514.58" width="4.8" height="4.8" fill="#000"/>
<rect x="233.55" y="499.46" width="4.8" height="4.8" fill="#000"/>
<rect x="246.07" y="479.15" width="4.8" height="4.8" fill="#000"/>
<rect x="258.60" y="463.04" width="4.8" height="4.8" fill="#000"/>
<text x="236.25" y="516.2641600000001" font-size="11" text-anchor="middle" font-weight="normal">*</text>
<text x="248.774" y="495.94792" font-size="11" text-anchor="middle" font-weight="normal">*</text>
<text x="261.298" y="479.83504" font-size="11" text-anchor="middle" font-weight="normal">*</text>
<text x="0" y="407.1" font-size="17.5" text-anchor="start" font-weight="bold">C</text>
<line x1="344.3" y1="413.15" x2="344.3" y2="548.55" stroke="#000" stroke-width="1.5" stroke-linecap="butt"/>
<line x1="343.55" y1="547.8" x2="473" y2="547.8" stroke="#000" stroke-width="1.5" stroke-linecap="butt"/>
<line x1="339.8" y1="547.8" x2="344.3" y2="547.8" stroke="#000" stroke-width="1.5" stroke-linecap="butt"/>
<text x="339.1" y="551.6999999999999" font-size="11.1" text-anchor="end" font-weight="normal">0.0</text>
<line x1="339.8" y1="514.3249999999999" x2="344.3" y2="514.3249999999999" stroke="#000" stroke-width="1.5" stroke-linecap="butt"/>
<text x="339.1" y="518.2249999999999" font-size="11.1" text-anchor="end" font-weight="normal">0.5</text>
<line x1="339.8" y1="480.84999999999997" x2="344.3" y2="480.84999999999997" stroke="#000" stroke-width="1.5" stroke-linecap="butt"/>
<text x="339.1" y="484.74999999999994" font-size="11.1" text-anchor="end" font-weight="normal">1.0</text>
<line x1="339.8" y1="447.375" x2="344.3" y2="447.375" stroke="#000" stroke-width="1.5" stroke-linecap="butt"/>
<text x="339.1" y="451.275" font-size="11.1" text-anchor="end" font-weight="normal">1.5</text>
<line x1="339.8" y1="413.9" x2="344.3" y2="413.9" stroke="#000" stroke-width="1.5" stroke-linecap="butt"/>
<text x="339.1" y="417.79999999999995" font-size="11.1" text-anchor="end" font-weight="normal">2.0</text>
<line x1="377" y1="547.8" x2="377" y2="552.3" stroke="#000" stroke-width="1.5" stroke-linecap="butt"/>
<line x1="441.25" y1="547.8" x2="441.25" y2="552.3" stroke="#000" stroke-width="1.5" stroke-linecap="butt"/>
<text x="376.5" y="565.3" font-size="12.1" text-anchor="middle" font-weight="normal">Gal4</text>
<text x="441.4" y="565.3" font-size="12.2" text-anchor="middle" font-weight="normal">CYP27A1</text>
<text x="310.4" y="480.4" font-size="12.8" text-anchor="middle" font-weight="normal" transform="rotate(-90 310.4 480.4)">Tumor weight (g)</text>
<rect x="354.80" y="443.60" width="44.40" height="104.20" fill="#000"/>
<rect x="418.90" y="491.90" width="45.10" height="55.90" fill="#000"/>
<line x1="377" y1="439.5" x2="377" y2="444" stroke="#000" stroke-width="1.5" stroke-linecap="butt"/>
<line x1="366" y1="439.5" x2="387.5" y2="439.5" stroke="#000" stroke-width="1.5" stroke-linecap="butt"/>
<line x1="441.25" y1="488.5" x2="441.25" y2="492" stroke="#000" stroke-width="1.5" stroke-linecap="butt"/>
<line x1="430.2" y1="488.5" x2="452.4" y2="488.5" stroke="#000" stroke-width="1.5" stroke-linecap="butt"/>
<text x="441.6" y="485.8" font-size="17" text-anchor="middle" font-weight="normal">*</text>
<text x="286.9" y="407.1" font-size="17.5" text-anchor="start" font-weight="bold">D</text>
</svg>
</body></html>
